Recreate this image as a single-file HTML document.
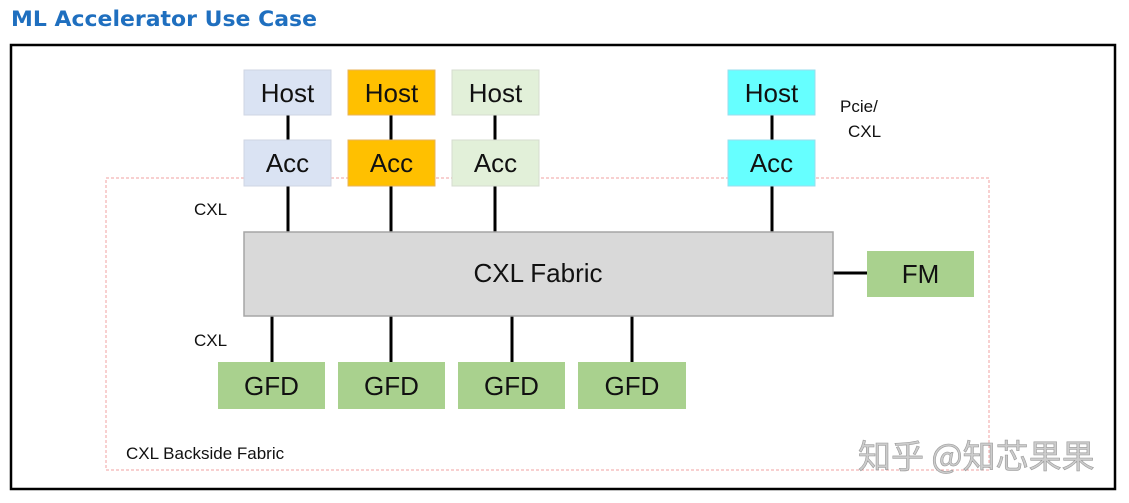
<!DOCTYPE html>
<html><head><meta charset="utf-8"><style>
html,body{margin:0;padding:0;background:#fff;width:1129px;height:503px;overflow:hidden}
svg{display:block}
</style></head><body>
<svg width="1129" height="503" viewBox="0 0 1129 503" xmlns="http://www.w3.org/2000/svg" font-family="'Liberation Sans', 'DejaVu Sans', sans-serif">
<text x="11" y="26" font-size="21" font-weight="bold" fill="#1f6fbf" font-family="'DejaVu Sans', 'Liberation Sans', sans-serif" textLength="306" lengthAdjust="spacingAndGlyphs">ML Accelerator Use Case</text>
<rect x="11" y="45" width="1104" height="444" fill="#fff" stroke="#000" stroke-width="2.5"/>
<rect x="106" y="178" width="883" height="292" fill="none" stroke="#f0a0a0" stroke-width="1" stroke-dasharray="3,2"/>
<g stroke="#000" stroke-width="3">
<line x1="288" y1="115" x2="288" y2="140"/><line x1="391" y1="115" x2="391" y2="140"/><line x1="495" y1="115" x2="495" y2="140"/><line x1="772" y1="115" x2="772" y2="140"/>
<line x1="288" y1="186" x2="288" y2="232"/><line x1="391" y1="186" x2="391" y2="232"/><line x1="495" y1="186" x2="495" y2="232"/><line x1="772" y1="186" x2="772" y2="232"/>
<line x1="833" y1="273" x2="867" y2="273"/>
<line x1="272" y1="316" x2="272" y2="362"/><line x1="391" y1="316" x2="391" y2="362"/><line x1="512" y1="316" x2="512" y2="362"/><line x1="632" y1="316" x2="632" y2="362"/>
</g>
<g font-size="26" text-anchor="middle" fill="#111">
<rect x="244" y="70" width="87" height="45" fill="#dae3f3" stroke="#cfd6e3"/><text x="287.5" y="102">Host</text>
<rect x="348" y="70" width="87" height="45" fill="#ffc000" stroke="#e8b35a"/><text x="391.5" y="102">Host</text>
<rect x="452" y="70" width="87" height="45" fill="#e2f0d9" stroke="#d5dccf"/><text x="495.5" y="102">Host</text>
<rect x="728" y="70" width="87" height="45" fill="#66ffff" stroke="#9de"/><text x="771.5" y="102">Host</text>
<rect x="244" y="140" width="87" height="46" fill="#dae3f3" stroke="#cfd6e3"/><text x="287.5" y="172">Acc</text>
<rect x="348" y="140" width="87" height="46" fill="#ffc000" stroke="#e8b35a"/><text x="391.5" y="172">Acc</text>
<rect x="452" y="140" width="87" height="46" fill="#e2f0d9" stroke="#d5dccf"/><text x="495.5" y="172">Acc</text>
<rect x="728" y="140" width="87" height="46" fill="#66ffff" stroke="#9de"/><text x="771.5" y="172">Acc</text>
<rect x="244" y="232" width="589" height="84" fill="#d9d9d9" stroke="#a6a6a6" stroke-width="1.5"/><text x="538" y="282">CXL Fabric</text>
<rect x="867" y="251" width="107" height="46" fill="#a9d18e"/><text x="920.5" y="283">FM</text>
<rect x="218" y="362" width="107" height="47" fill="#a9d18e"/><text x="271.5" y="395">GFD</text>
<rect x="338" y="362" width="107" height="47" fill="#a9d18e"/><text x="391.5" y="395">GFD</text>
<rect x="458" y="362" width="107" height="47" fill="#a9d18e"/><text x="511.5" y="395">GFD</text>
<rect x="578" y="362" width="108" height="47" fill="#a9d18e"/><text x="632" y="395">GFD</text>
</g>
<g font-size="17" fill="#111">
<text x="194" y="215">CXL</text>
<text x="194" y="346">CXL</text>
<text x="840" y="112">Pcie/</text>
<text x="848" y="137">CXL</text>
<text x="126" y="459">CXL Backside Fabric</text>
</g>
<text x="858" y="468" font-size="33" fill="#ccc" stroke="#999" stroke-width="0.6" font-family="'Noto Sans CJK SC', sans-serif">知乎 @知芯果果</text>
</svg>
</body></html>
